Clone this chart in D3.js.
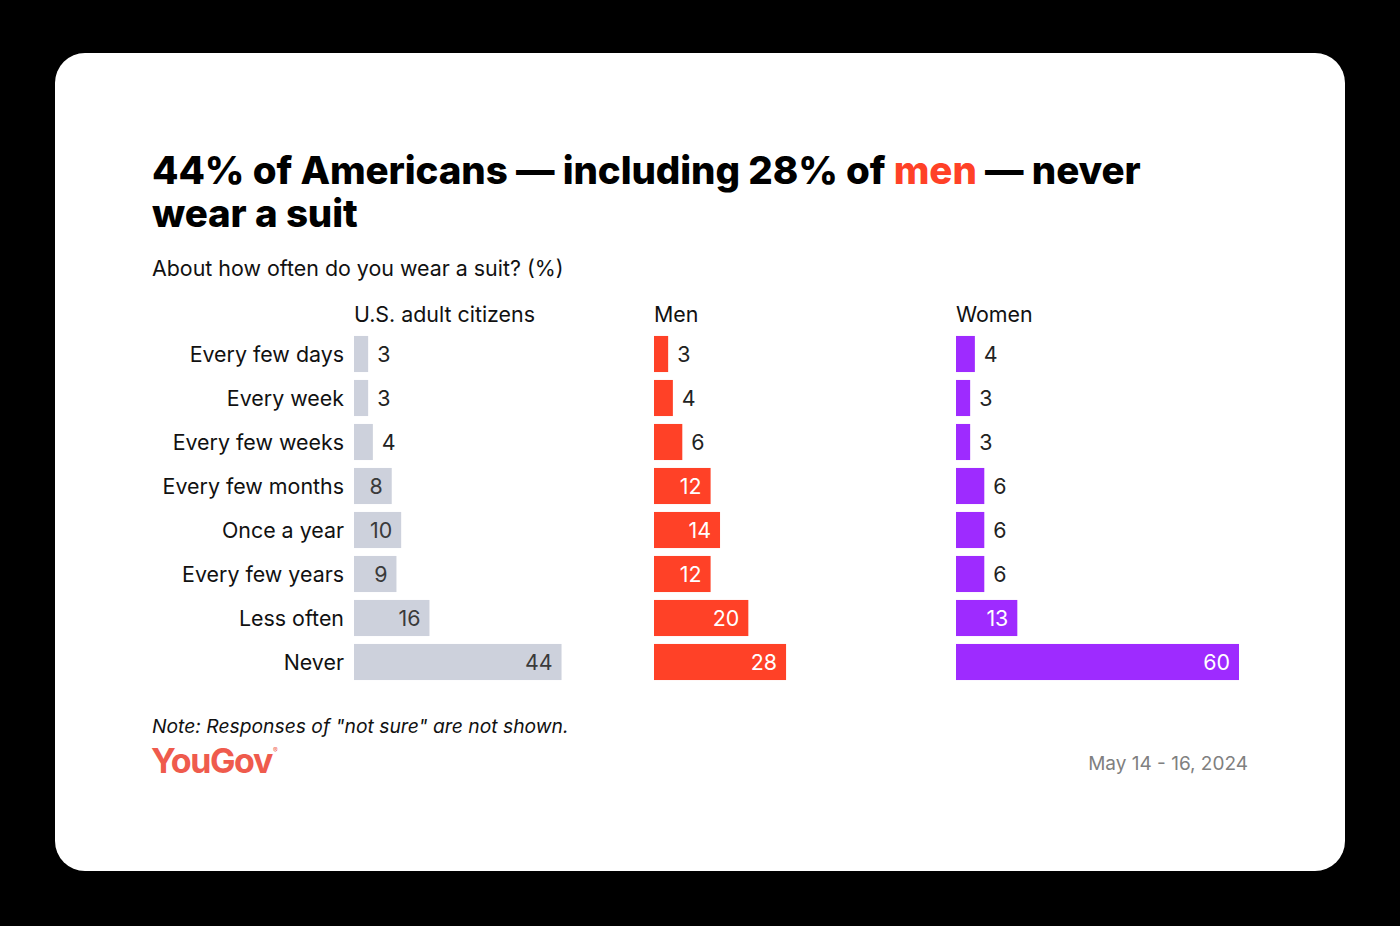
<!DOCTYPE html>
<html><head><meta charset="utf-8">
<script src="https://cdn.jsdelivr.net/npm/d3@7"></script>
<style>
html,body{margin:0;padding:0;background:#000;}
svg{display:block;}
text{font-family:Inter,"Noto Sans",sans-serif;}
</style></head>
<body><svg id="c" width="1400" height="926"></svg>
<script>
const categories = ["Every few days","Every week","Every few weeks","Every few months","Once a year","Every few years","Less often","Never"];
const groups = ["U.S. adult citizens","Men","Women"];
const allValues = [3,3,4,8,10,9,16,44];
const menValues = [3,4,6,12,14,12,20,28];
const womenValues = [4,3,3,6,6,6,13,60];
const seriesValues = [allValues, menValues, womenValues];
const barColors = ["#cdd1dc","#ff4127","#9e2bff"];
const insideText = ["#3a3a3a","#ffffff","#ffffff"];

const svg = d3.select("#c");
svg.append("rect").attr("x",0).attr("y",0).attr("width",1400).attr("height",926).attr("fill","#000");
svg.append("rect").attr("x",55).attr("y",53).attr("width",1290).attr("height",818).attr("rx",30).attr("fill","#fff");

// Title
const t = svg.append("text").attr("x",152).attr("y",184).attr("font-size",38.5).attr("font-weight",800).attr("fill","#000").attr("letter-spacing","-0.1");
t.append("tspan").text("44% of Americans — including 28% of ");
t.append("tspan").attr("fill","#ff4127").text("men");
t.append("tspan").text(" — never");
svg.append("text").attr("x",152).attr("y",227).attr("font-size",38.5).attr("font-weight",800).attr("fill","#000").attr("letter-spacing","-0.1").text("wear a suit");

svg.append("text").attr("x",152).attr("y",276).attr("font-size",21.4).attr("fill","#111").text("About how often do you wear a suit? (%)");

const y = d3.scaleBand().domain(categories).range([332,684]).paddingInner(0.18).paddingOuter(0.09);
const x = d3.scaleLinear().domain([0,60]).range([0,283]);
const panelX = [354,654,956];

// category labels
svg.append("g").selectAll("text").data(categories).join("text")
  .attr("x",344).attr("y",d=>y(d)+y.bandwidth()/2).attr("dy","0.36em")
  .attr("text-anchor","end").attr("font-size",21.4).attr("fill","#111").text(d=>d);

groups.forEach((g,i)=>{
  const gx = panelX[i];
  const pg = svg.append("g").attr("transform",`translate(${gx},0)`);
  pg.append("text").attr("x",0).attr("y",322).attr("font-size",21.4).attr("fill","#111").text(g);
  const data = categories.map((c,j)=>({c,v:seriesValues[i][j]}));
  pg.selectAll("rect").data(data).join("rect")
    .attr("x",0).attr("y",d=>y(d.c)).attr("width",d=>x(d.v)).attr("height",y.bandwidth()).attr("fill",barColors[i]);
  pg.selectAll("text.v").data(data).join("text").attr("class","v")
    .attr("x",d=>d.v>=7 ? x(d.v)-9 : x(d.v)+9)
    .attr("y",d=>y(d.c)+y.bandwidth()/2).attr("dy","0.36em")
    .attr("text-anchor",d=>d.v>=7?"end":"start")
    .attr("font-size",21.4)
    .attr("fill",d=>d.v>=7?insideText[i]:"#222")
    .text(d=>d.v);
});

svg.append("text").attr("x",152).attr("y",733).attr("font-size",19.3).attr("font-style","italic").attr("fill","#111").text('Note: Responses of "not sure" are not shown.');
const logo = svg.append("text").attr("x",151).attr("y",773).attr("font-size",34).attr("font-weight",700).attr("fill","#ef5b4d").attr("letter-spacing","-1.4").text("YouGov");
const lw = logo.node().getComputedTextLength();
svg.append("text").attr("x",151+lw+1).attr("y",753).attr("font-size",7).attr("fill","#ef5b4d").text("®");
svg.append("text").attr("x",1248).attr("y",770).attr("text-anchor","end").attr("font-size",19).attr("fill","#808080").text("May 14 - 16, 2024");
</script></body></html>
